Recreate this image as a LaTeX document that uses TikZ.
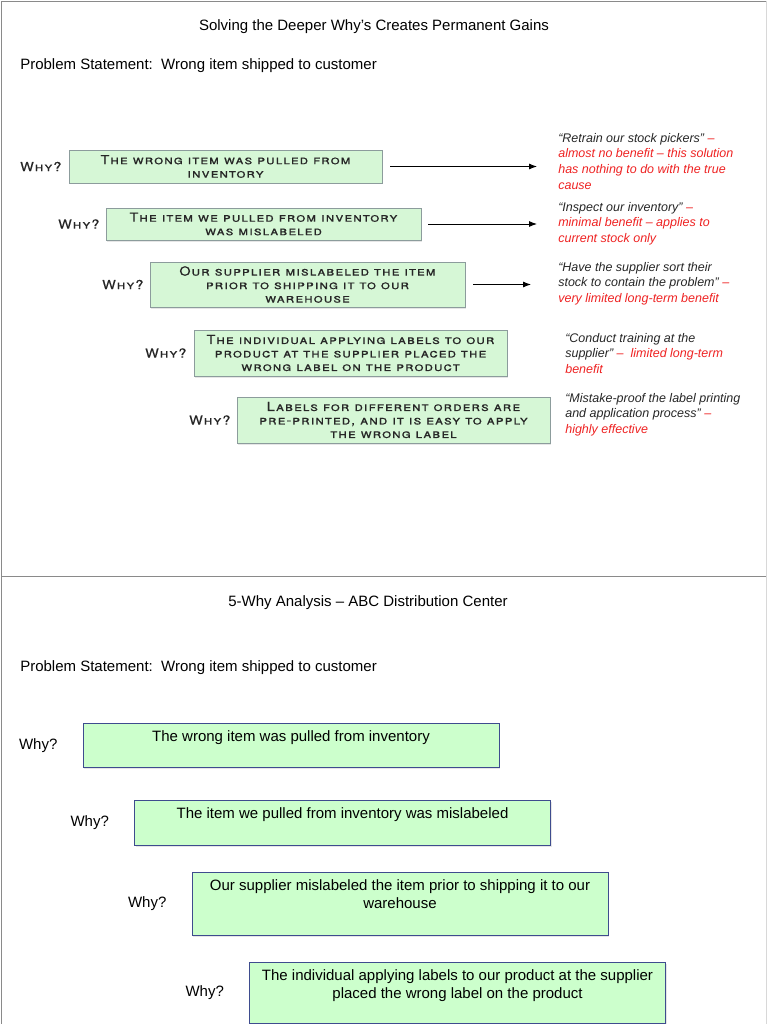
\documentclass[tikz,border=0pt]{standalone}
\usepackage{fontspec}
\setmainfont{Liberation Sans}
\newfontfamily\capsfont[Letters=SmallCaps, FakeStretch=1.15, LetterSpace=8, FakeBold=0.4]{TeX Gyre Heros}
\usepackage{xcolor}
\usepackage{tikz}
\usetikzlibrary{positioning}
\usetikzlibrary{shadows}
\usetikzlibrary{arrows.meta}
\definecolor{framec}{HTML}{8A8A8A}
\definecolor{edgec}{HTML}{D8D8D8}
\definecolor{cfill}{HTML}{D6F7D6}
\definecolor{cline}{HTML}{8C9C9C}
\definecolor{bfill}{HTML}{CCFFCC}
\definecolor{bline}{HTML}{3E4C8E}
\definecolor{notered}{HTML}{EE2222}
\definecolor{notetext}{HTML}{262626}

\begin{document}
\begin{tikzpicture}[x=1pt, y=-1pt, -> , >= {Latex[length=8pt, width=6pt]}, line width =0.6 pt,
    cbox/.style={rectangle, draw=cline, fill=cfill, align=center, inner sep=0pt,
        minimum width=313pt, drop shadow={opacity=0.2, shadow xshift=1pt, shadow yshift=-1.5pt},
        text=black!85, font=\capsfont\fontsize{12.5}{13.5}\selectfont},
    cwhy/.style={inner sep=0pt, text=black!85, font=\capsfont\fontsize{12.5}{13.5}\selectfont},
    note/.style={anchor=north west, align=left, inner sep=0pt, text=notetext,
        font=\itshape\fontsize{12.5}{15.6}\selectfont},
    bbox/.style={rectangle, draw=bline, fill=bfill, align=center, inner sep=0pt,
        anchor=north, minimum width=416pt, text height=18pt,
        drop shadow={opacity=0.2, shadow xshift=1pt, shadow yshift=-1.5pt},
        font=\fontsize{15}{18}\selectfont},
    bwhy/.style={inner sep=0pt, font=\fontsize{15}{18}\selectfont},
    head/.style={inner sep=0pt, font=\fontsize{15}{18}\selectfont}]
        \useasboundingbox (0,0) rectangle (768,1024);

        % slide frames
        \draw[-, framec] (1,576) -- (1,1) -- (766,1);
        \draw[-, edgec] (766,1) -- (766,1024);
        \draw[-, framec] (1,1024) -- (1,576) -- (766,576);

        % first slide
        \node [head] (title1) at (374,27) {Solving the Deeper Why’s Creates Permanent Gains};
        \node [head, anchor=west] (prob1) at (20,66) {Problem Statement:\ \ Wrong item shipped to customer};

        \node [cbox, minimum height=33pt] (w1) at (225.5,166.5) {The wrong item was pulled from\\inventory};
        \node [cbox, minimum height=32pt, minimum width=315pt] (w2) at (263.5,224) {The item we pulled from inventory\\was mislabeled};
        \node [cbox, minimum height=45pt, minimum width=315pt] (w3) at (307.5,284.5) {Our supplier mislabeled the item\\prior to shipping it to our\\warehouse};
        \node [cbox, minimum height=46pt] (w4) at (350.5,353) {The individual applying labels to our\\product at the supplier placed the\\wrong label on the product};
        \node [cbox, minimum height=46pt] (w5) at (393.5,420) {Labels for different orders are\\pre-printed, and it is easy to apply\\the wrong label};

        \node [cwhy, left=7pt of w1] (y1) {Why?};
        \node [cwhy, left=6pt of w2] (y2) {Why?};
        \node [cwhy, left=6pt of w3] (y3) {Why?};
        \node [cwhy, left=7pt of w4] (y4) {Why?};
        \node [cwhy, left=6pt of w5] (y5) {Why?};

        \coordinate (e1) at (537,166.5);
        \coordinate (e2) at (537,224);
        \coordinate (e3) at (531,284.5);
        \path (w1) edge[shorten <=8pt, line width=0.9pt] (e1);
        \path (w2) edge[shorten <=7pt, line width=0.9pt] (e2);
        \path (w3) edge[shorten <=8pt, line width=0.9pt] (e3);

        \node [note] (r1) at (558,133) {“Retrain our stock pickers” \textcolor{notered}{–}\\
            \textcolor{notered}{almost no benefit – this solution}\\
            \textcolor{notered}{has nothing to do with the true}\\
            \textcolor{notered}{cause}};
        \node [note] (r2) at (558,202) {“Inspect our inventory” \textcolor{notered}{–}\\
            \textcolor{notered}{minimal benefit – applies to}\\
            \textcolor{notered}{current stock only}};
        \node [note] (r3) at (558,262) {“Have the supplier sort their\\
            stock to contain the problem” \textcolor{notered}{–}\\
            \textcolor{notered}{very limited long-term benefit}};
        \node [note] (r4) at (565,333) {“Conduct training at the\\
            supplier” \textcolor{notered}{–\ \ limited long-term}\\
            \textcolor{notered}{benefit}};
        \node [note] (r5) at (565,393) {“Mistake-proof the label printing\\
            and application process” \textcolor{notered}{–}\\
            \textcolor{notered}{highly effective}};

        % second slide
        \node [head] (title2) at (368,603) {5-Why Analysis – ABC Distribution Center};
        \node [head, anchor=west] (prob2) at (20,668) {Problem Statement:\ \ Wrong item shipped to customer};

        \node [bbox, text depth=26pt] (b1) at (291,723) {The wrong item was pulled from inventory};
        \node [bbox, text depth=27pt] (b2) at (342.5,800) {The item we pulled from inventory was mislabeled};
        \node [bbox, text height=36pt, text depth=27pt] (b3) at (400,872) {Our supplier mislabeled the item prior to shipping it to our\\warehouse};
        \node [bbox, text height=36pt, text depth=25pt] (b4) at (457.5,962) {The individual applying labels to our product at the supplier\\placed the wrong label on the product};

        \node [bwhy, left=25pt of b1] (z1) {Why?};
        \node [bwhy, left=25pt of b2] (z2) {Why?};
        \node [bwhy, left=25pt of b3] (z3) {Why?};
        \node [bwhy, left=25pt of b4] (z4) {Why?};
    \end{tikzpicture}
\end{document}
